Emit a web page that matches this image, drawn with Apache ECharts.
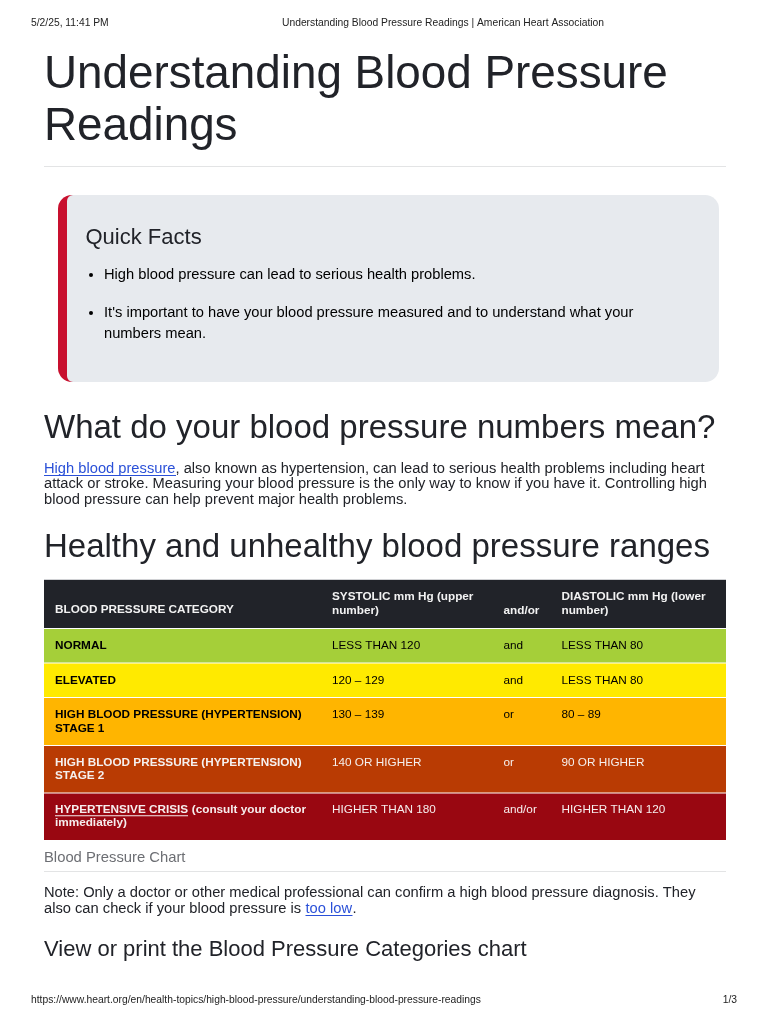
<!DOCTYPE html>
<html>
<head>
<meta charset="utf-8">
<title>Understanding Blood Pressure Readings</title>
<style>
  html, body { margin: 0; padding: 0; background: #fff; }
  #main { width: 768px; height: 1024px; }
</style>
<script src="https://cdn.jsdelivr.net/npm/echarts@6/dist/echarts.min.js"></script>
</head>
<body>
<div id="main"></div>
<script>
// table contents
var headers = [
  ['BLOOD PRESSURE CATEGORY'],
  ['SYSTOLIC mm Hg (upper', 'number)'],
  ['and/or'],
  ['DIASTOLIC mm Hg (lower', 'number)']
];
var categories = [
  ['NORMAL'],
  ['ELEVATED'],
  ['HIGH BLOOD PRESSURE (HYPERTENSION)', 'STAGE 1'],
  ['HIGH BLOOD PRESSURE (HYPERTENSION)', 'STAGE 2'],
  ['HYPERTENSIVE CRISIS (consult your doctor', 'immediately)']
];
var systolic = ['LESS THAN 120', '120 – 129', '130 – 139', '140 OR HIGHER', 'HIGHER THAN 180'];
var connectors = ['and', 'and', 'or', 'or', 'and/or'];
var diastolic = ['LESS THAN 80', 'LESS THAN 80', '80 – 89', '90 OR HIGHER', 'HIGHER THAN 120'];

// table layout, in axis units (1 unit = 1px)
var rowHeights = [49, 34.5, 34.5, 48, 47.5, 47.5];
var rowColors = ['#212329', '#a5cf39', '#ffea00', '#ffb500', '#b93b03', '#990711'];
var rowInk = ['#f2f2f2', '#000', '#000', '#000', '#f5f0ee', '#f6eeee'];
var firstLine = [16.75, 17.25, 17.25, 16.75, 16.25];
var columnX = [11, 288, 459.5, 517.5];
var tableWidth = 682;
var tableHeight = 261;

var FONT = '"Liberation Sans", Arial, sans-serif';
var CELL_SIZE = 11.75;
var BODY_SIZE = 14.7;
var PRINT_SIZE = 10.3;

function rowTop(i) {
  var y = 0;
  for (var k = 0; k < i; k++) y += rowHeights[k];
  return y;
}

function cellText(api, col, yUnits, text, color, bold) {
  var p = api.coord([columnX[col], yUnits]);
  return {
    type: 'text',
    style: {
      x: p[0], y: p[1], text: text, fill: color,
      font: (bold ? 'bold ' : '') + CELL_SIZE + 'px ' + FONT,
      textAlign: 'left', textVerticalAlign: 'middle'
    }
  };
}

function renderRow(params, api) {
  var i = params.dataIndex;
  var top = rowTop(i);
  var h = rowHeights[i];
  var a = api.coord([0, top]);
  var b = api.coord([tableWidth, top + h - 1]);
  var ink = rowInk[i];
  var kids = [{
    type: 'rect',
    shape: { x: a[0], y: a[1], width: b[0] - a[0], height: b[1] - a[1] },
    style: { fill: rowColors[i] }
  }];

  if (i === 0) {
    kids.push(cellText(api, 0, 30, headers[0][0], ink, true));
    kids.push(cellText(api, 1, 17, headers[1][0], ink, true));
    kids.push(cellText(api, 1, 30.5, headers[1][1], ink, true));
    kids.push(cellText(api, 2, 30.5, headers[2][0], ink, true));
    kids.push(cellText(api, 3, 17, headers[3][0], ink, true));
    kids.push(cellText(api, 3, 30.5, headers[3][1], ink, true));
    return { type: 'group', children: kids };
  }

  var r = i - 1;
  var lineY = top + firstLine[r];
  var name = categories[r];
  if (r === 4) {
    // first words of this row are a link, underlined in the reference
    var linkWord = 'HYPERTENSIVE CRISIS';
    kids.push(cellText(api, 0, lineY, linkWord, ink, true));
    var rest = cellText(api, 0, lineY, name[0].slice(linkWord.length), ink, true);
    rest.style.x += 133.5;
    kids.push(rest);
    var u1 = api.coord([columnX[0], lineY + 5.5]);
    kids.push({
      type: 'rect',
      shape: { x: u1[0], y: u1[1], width: 133, height: 1 },
      style: { fill: ink }
    });
  } else {
    kids.push(cellText(api, 0, lineY, name[0], ink, true));
  }
  if (name.length > 1) kids.push(cellText(api, 0, lineY + 13.5, name[1], ink, true));
  kids.push(cellText(api, 1, lineY, systolic[r], ink, false));
  kids.push(cellText(api, 2, lineY, connectors[r], ink, false));
  kids.push(cellText(api, 3, lineY, diastolic[r], ink, false));
  return { type: 'group', children: kids };
}

function txt(x, y, text, size, color, align) {
  return {
    type: 'text', x: x, y: y,
    style: {
      text: text, fill: color, font: size + 'px ' + FONT,
      textAlign: align || 'left', textVerticalAlign: 'middle'
    }
  };
}

function box(x, y, w, h, color, r) {
  return { type: 'rect', shape: { x: x, y: y, width: w, height: h, r: r || 0 }, style: { fill: color } };
}

var INK = '#212329';
var LINK = '#2a50d8';

var pageItems = [
  // print header and footer
  txt(31, 23.5, '5/2/25, 11:41 PM', PRINT_SIZE, '#222'),
  txt(282, 23.5, 'Understanding Blood Pressure Readings | American Heart Association', PRINT_SIZE, '#222'),
  txt(31, 1000.5, 'https://www.heart.org/en/health-topics/high-blood-pressure/understanding-blood-pressure-readings', PRINT_SIZE, '#222'),
  txt(737, 1000.5, '1/3', PRINT_SIZE, '#222', 'right'),

  // page title
  txt(44, 75, 'Understanding Blood Pressure', 45.8, INK),
  txt(44, 127, 'Readings', 45.8, INK),
  box(44, 166, 682, 1, '#e3e4e5'),

  // quick facts card
  box(58, 195, 40, 187, '#c8102e', 14),
  box(67, 195, 652, 187, '#e7eaee', [6, 14, 14, 6]),
  txt(85.5, 237.5, 'Quick Facts', 22, INK),
  { type: 'circle', shape: { cx: 91, cy: 275, r: 2 }, style: { fill: '#000' } },
  txt(104, 274.5, 'High blood pressure can lead to serious health problems.', BODY_SIZE, '#000'),
  { type: 'circle', shape: { cx: 91, cy: 313, r: 2 }, style: { fill: '#000' } },
  txt(104, 313, "It's important to have your blood pressure measured and to understand what your", BODY_SIZE, '#000'),
  txt(104, 334, 'numbers mean.', BODY_SIZE, '#000'),

  // intro section
  txt(44, 429, 'What do your blood pressure numbers mean?', 33, INK),
  txt(44, 468.5, 'High blood pressure', BODY_SIZE, LINK),
  box(44, 475, 132, 1, LINK),
  txt(175.5, 468.5, ', also known as hypertension, can lead to serious health problems including heart', BODY_SIZE, INK),
  txt(44, 484, 'attack or stroke. Measuring your blood pressure is the only way to know if you have it. Controlling high', BODY_SIZE, INK),
  txt(44, 499.5, 'blood pressure can help prevent major health problems.', BODY_SIZE, INK),

  txt(44, 548, 'Healthy and unhealthy blood pressure ranges', 33, INK),
  box(44, 579, 682, 1, '#d0d1d4'),

  // below the table
  txt(44, 857.5, 'Blood Pressure Chart', 14.8, '#6c6e73'),
  box(44, 871, 682, 1, '#e3e4e5'),
  txt(44, 893, 'Note: Only a doctor or other medical professional can confirm a high blood pressure diagnosis. They', BODY_SIZE, INK),
  txt(44, 908.5, 'also can check if your blood pressure is ', BODY_SIZE, INK),
  txt(305.5, 908.5, 'too low', BODY_SIZE, LINK),
  box(305.5, 915, 47, 1, LINK),
  txt(352.5, 908.5, '.', BODY_SIZE, INK),
  txt(44, 949.5, 'View or print the Blood Pressure Categories chart', 22, INK)
];

var chart = echarts.init(document.getElementById('main'), null, { renderer: 'canvas' });
chart.setOption({
  animation: false,
  backgroundColor: '#fff',
  grid: { left: 44, top: 580, width: tableWidth, height: tableHeight },
  xAxis: { type: 'value', min: 0, max: tableWidth, show: false },
  yAxis: { type: 'value', min: 0, max: tableHeight, inverse: true, show: false },
  graphic: { elements: pageItems },
  series: [{
    type: 'custom',
    coordinateSystem: 'cartesian2d',
    renderItem: renderRow,
    data: rowHeights.map(function (h, i) { return [i, h]; }),
    silent: true
  }]
});
</script>
</body>
</html>
